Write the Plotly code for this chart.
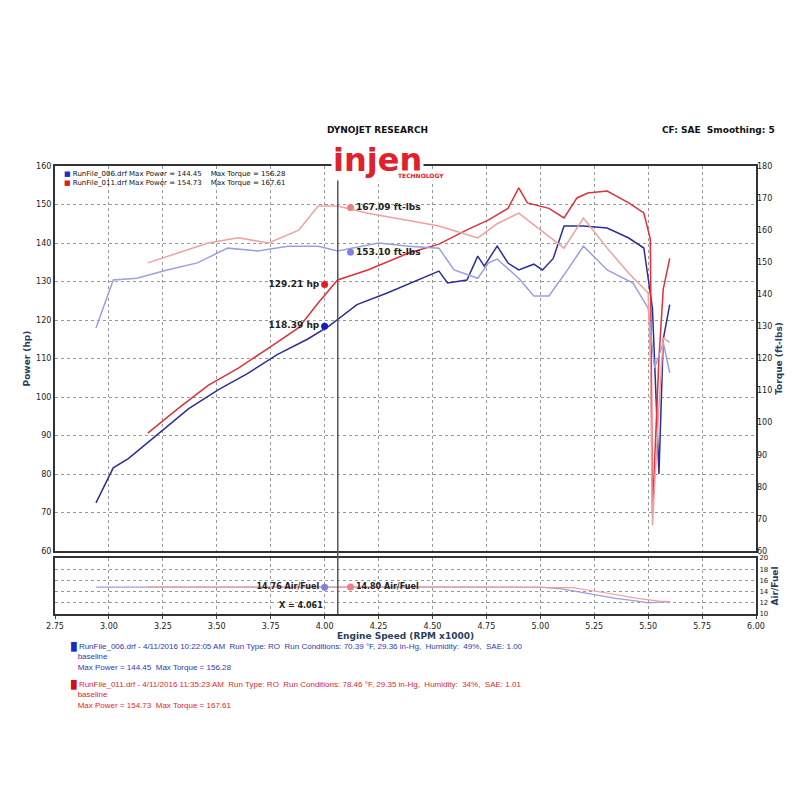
import plotly.graph_objects as go

blue_hp_rpm = [2.94,3.02,3.09,3.23,3.37,3.51,3.64,3.78,3.92,4.02,4.15,4.29,4.48,4.53,4.57,4.66,4.71,4.74,4.80,4.85,4.90,4.97,5.01,5.06,5.11,5.20,5.31,5.41,5.48,5.52,5.54,5.55,5.57,5.60]
blue_hp = [72.5,81.6,84,90.6,97,102,106,111,115,118.4,124,127,131.4,132.7,129.6,130.4,136.6,134,139.2,134.8,133,134.5,133,136,144.4,144.4,143.9,141.3,138.7,123,95,80,115,124]
red_hp_rpm = [3.18,3.32,3.46,3.60,3.74,3.88,3.97,4.06,4.20,4.39,4.53,4.66,4.76,4.85,4.90,4.94,5.04,5.11,5.17,5.22,5.31,5.41,5.48,5.51,5.52,5.55,5.57,5.60]
red_hp = [90.6,97,103,107.5,112.7,118,124.4,130.4,133,137.4,139.7,143.4,146,149,154.3,150.4,149,146.5,151.7,153,153.5,150.4,147.8,141,70,110,128,136]
blue_tq_rpm = [2.94,3.02,3.13,3.27,3.41,3.55,3.69,3.83,3.97,4.06,4.25,4.39,4.53,4.60,4.71,4.76,4.80,4.90,4.97,5.04,5.13,5.20,5.31,5.43,5.50,5.53,5.57,5.60]
blue_tq = [129.5,144.5,145,147.6,149.8,154.4,153.5,155,155,153.5,156,155,154.4,147.6,145,149.8,151,145,139.5,139.5,148,155,147.6,143.5,135.7,117,125,115.5]
red_tq_rpm = [3.18,3.32,3.46,3.60,3.74,3.88,3.97,4.06,4.20,4.39,4.53,4.71,4.80,4.90,4.99,5.11,5.20,5.31,5.41,5.50,5.51,5.52,5.55,5.57,5.60]
red_tq = [149.8,153,156,157.6,156,160,167.5,167.5,165.3,163,161.3,157.6,162,165.3,160.6,154.4,163.8,154.4,146.6,140.4,120,68,105,126.4,125]
blue_af_rpm = [2.94,3.5,4.0,4.5,5.0,5.1,5.25,5.35,5.45,5.5,5.6]
blue_af = [14.8,14.8,14.76,14.8,14.8,14.5,13.5,12.8,12.3,12.0,12.2]
red_af_rpm = [3.18,3.5,4.0,4.5,5.0,5.15,5.3,5.45,5.55,5.6]
red_af = [14.8,14.85,14.80,14.85,14.8,14.7,13.8,12.8,12.3,12.2]
x_ticks = [2.75,3.0,3.25,3.5,3.75,4.0,4.25,4.5,4.75,5.0,5.25,5.5,5.75,6.0]
cursor_x = 4.061

BLUE = "#2a2f9a"; LBLUE = "#9a9fe0"; RED = "#e0303a"; LRED = "#f0a0a0"
lbl = dict(size=9, color="#222", family="DejaVu Sans")
fig = go.Figure()
fig.add_trace(go.Scatter(x=blue_tq_rpm, y=blue_tq, yaxis="y2", line=dict(color=LBLUE, width=1.5), mode="lines"))
fig.add_trace(go.Scatter(x=red_tq_rpm, y=red_tq, yaxis="y2", line=dict(color=LRED, width=1.5), mode="lines"))
fig.add_trace(go.Scatter(x=blue_hp_rpm, y=blue_hp, line=dict(color=BLUE, width=1.5), mode="lines"))
fig.add_trace(go.Scatter(x=red_hp_rpm, y=red_hp, line=dict(color=RED, width=1.5), mode="lines"))
fig.add_trace(go.Scatter(x=blue_af_rpm, y=blue_af, xaxis="x2", yaxis="y3", line=dict(color=LBLUE, width=1.2), mode="lines"))
fig.add_trace(go.Scatter(x=red_af_rpm, y=red_af, xaxis="x2", yaxis="y3", line=dict(color=LRED, width=1.2), mode="lines"))
fig.add_trace(go.Scatter(x=[4.0], y=[118.39], mode="markers+text", marker=dict(color="#1020c0", size=7), text=["<b>118.39 hp</b>"], textposition="middle left", textfont=lbl))
fig.add_trace(go.Scatter(x=[4.0], y=[129.21], mode="markers+text", marker=dict(color="#e02020", size=7), text=["<b>129.21 hp</b>"], textposition="middle left", textfont=lbl))
fig.add_trace(go.Scatter(x=[4.12], y=[167.09], yaxis="y2", mode="markers+text", marker=dict(color="#f08080", size=7), text=["<b>167.09 ft-lbs</b>"], textposition="middle right", textfont=lbl))
fig.add_trace(go.Scatter(x=[4.12], y=[153.10], yaxis="y2", mode="markers+text", marker=dict(color="#8080e0", size=7), text=["<b>153.10 ft-lbs</b>"], textposition="middle right", textfont=lbl))
fig.add_trace(go.Scatter(x=[4.0], y=[14.76], xaxis="x2", yaxis="y3", mode="markers+text", marker=dict(color="#8080e0", size=7), text=["<b>14.76 Air/Fuel</b>"], textposition="middle left", textfont=dict(size=8, color="#222")))
fig.add_trace(go.Scatter(x=[4.12], y=[14.80], xaxis="x2", yaxis="y3", mode="markers+text", marker=dict(color="#f08080", size=7), text=["<b>14.80 Air/Fuel</b>"], textposition="middle right", textfont=dict(size=8, color="#222")))

grid = dict(showgrid=True, gridcolor="#999", griddash="dot", gridwidth=1)
axfont = dict(size=8, color="#222", family="DejaVu Sans")
fig.update_layout(
    width=800, height=800, showlegend=False, plot_bgcolor="white", paper_bgcolor="white",
    margin=dict(l=47, r=52, t=158, b=194),
    font=dict(family="DejaVu Sans"),
    xaxis=dict(domain=[0,1], range=[2.75,6.0], tickvals=x_ticks, showticklabels=False, anchor="y", **grid,
               showline=True, linecolor="#333", mirror=True, linewidth=2, zeroline=False),
    yaxis=dict(domain=[0.1406,1], range=[60,160], dtick=10, tickfont=axfont, **grid, zeroline=False,
               title=dict(text="<b>Power (hp)</b>", font=dict(size=9), standoff=4),
               showline=True, linecolor="#333", linewidth=2, mirror=True),
    yaxis2=dict(overlaying="y", side="right", range=[60,180], dtick=10, tickfont=axfont, showgrid=False, zeroline=False,
                title=dict(text="<b>Torque (ft-lbs)</b>", font=dict(size=9), standoff=4)),
    xaxis2=dict(domain=[0,1], range=[2.75,6.0], tickvals=x_ticks, ticktext=[f"{v:.2f}" for v in x_ticks], tickfont=axfont,
                anchor="y3", **grid, zeroline=False, ticks="outside", ticklen=3,
                title=dict(text="<b>Engine Speed (RPM x1000)</b>", font=dict(size=9), standoff=2),
                showline=True, linecolor="#333", linewidth=2, mirror=True),
    yaxis3=dict(domain=[0,0.125], range=[10,20], tickvals=[10,12,14,16,18,20], side="right", tickfont=dict(size=7, color="#222"), anchor="x2", **grid, zeroline=False,
                title=dict(text="<b>Air/Fuel</b>", font=dict(size=9), standoff=4),
                showline=True, linecolor="#333", linewidth=2, mirror=True),
)
fig.add_shape(type="line", xref="x", yref="paper", x0=cursor_x, x1=cursor_x, y0=0, y1=1, line=dict(color="#555", width=1.5))
fig.add_annotation(xref="x2", yref="y3", x=4.0, y=11.5, text="<b>X = 4.061</b>", showarrow=False, xanchor="right", font=dict(size=8, color="#222"))

fig.add_annotation(xref="paper", yref="paper", x=0.46, y=1.095, text="<b>DYNOJET RESEARCH</b>", showarrow=False, font=dict(size=9, color="#111"))
fig.add_annotation(xref="paper", yref="paper", x=0.46, y=1.06, text="<b>injen</b>", showarrow=False, font=dict(size=32, color="#e0202a"), bgcolor="white")
fig.add_annotation(xref="paper", yref="paper", x=0.487, y=0.99, xanchor="left", text="<b>TECHNOLOGY</b>", showarrow=False, font=dict(size=6, color="#e0202a"), bgcolor="white")
fig.add_annotation(xref="paper", yref="paper", x=1.03, y=1.095, text="<b>CF: SAE  Smoothing: 5</b>", showarrow=False,
                   xanchor="right", font=dict(size=9, color="#111"))
fig.add_annotation(xref="paper", yref="paper", x=0.01, y=0.995, xanchor="left", yanchor="top", align="left", showarrow=False,
                   text="<span style='color:#2030c0'>■</span> RunFile_006.drf Max Power = 144.45    Max Torque = 156.28<br>"
                        "<span style='color:#e02020'>■</span> RunFile_011.drf Max Power = 154.73    Max Torque = 167.61",
                   font=dict(size=7, color="#111"))
fig.add_annotation(xref="paper", yref="paper", x=0.02, y=-0.055, xanchor="left", yanchor="top", align="left", showarrow=False,
                   text="<span style='color:#1030c0'>█</span> RunFile_006.drf - 4/11/2016 10:22:05 AM  Run Type: RO  Run Conditions: 70.39 °F, 29.36 in-Hg,  Humidity:  49%,  SAE: 1.00<br>"
                        "&nbsp;&nbsp;&nbsp;baseline<br>&nbsp;&nbsp;&nbsp;Max Power = 144.45  Max Torque = 156.28",
                   font=dict(size=8, color="#2a3ab0", family="Liberation Sans Narrow, Liberation Sans"))
fig.add_annotation(xref="paper", yref="paper", x=0.02, y=-0.14, xanchor="left", yanchor="top", align="left", showarrow=False,
                   text="<span style='color:#d01010'>█</span> RunFile_011.drf - 4/11/2016 11:35:23 AM  Run Type: RO  Run Conditions: 78.46 °F, 29.35 in-Hg,  Humidity:  34%,  SAE: 1.01<br>"
                        "&nbsp;&nbsp;&nbsp;baseline<br>&nbsp;&nbsp;&nbsp;Max Power = 154.73  Max Torque = 167.61",
                   font=dict(size=8, color="#e02828", family="Liberation Sans Narrow, Liberation Sans"))
fig.write_html("out.html")
